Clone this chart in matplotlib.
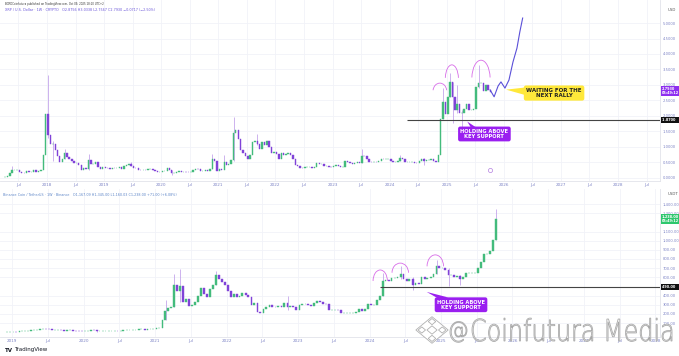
import numpy as np
import pandas as pd
import matplotlib.pyplot as plt
import matplotlib.transforms as mtransforms
from matplotlib.patches import Arc, Polygon, RegularPolygon, PathPatch
from matplotlib.textpath import TextPath
from matplotlib.font_manager import FontProperties

# XRP / USD, half-month closes from 2017-04-01
xrp_close = [
    0.034, 0.06, 0.17, 0.25, 0.25, 0.26, 0.19, 0.17, 0.16, 0.21, 0.19, 0.20,
    0.25, 0.20, 0.21, 0.25, 0.75, 2.05,
    1.40, 1.10, 1.10, 0.90, 0.70, 0.50, 0.62, 0.82, 0.67, 0.61, 0.55, 0.47,
    0.47, 0.43, 0.27, 0.33, 0.28, 0.58, 0.44, 0.46, 0.50, 0.36, 0.29, 0.35,
    0.32, 0.31, 0.30, 0.32, 0.31, 0.31, 0.34, 0.30, 0.40, 0.42, 0.44, 0.40,
    0.32, 0.31, 0.27, 0.26, 0.26, 0.25, 0.29, 0.29, 0.26, 0.23, 0.19, 0.19,
    0.22, 0.24, 0.33, 0.25, 0.16, 0.17, 0.19, 0.21, 0.20, 0.20, 0.19, 0.18,
    0.20, 0.26, 0.29, 0.28, 0.24, 0.24, 0.25, 0.24, 0.30, 0.60, 0.55, 0.22,
    0.30, 0.26, 0.53, 0.42, 0.44, 0.57, 1.45, 1.56, 1.25, 0.90, 0.82, 0.70,
    0.60, 0.75, 1.15, 1.18, 1.10, 0.95, 1.15, 1.08, 1.20, 1.00, 0.82, 0.83,
    0.76, 0.62, 0.80, 0.75, 0.77, 0.82, 0.73, 0.62, 0.42, 0.40, 0.32, 0.31,
    0.35, 0.37, 0.37, 0.33, 0.36, 0.48, 0.46, 0.46, 0.38, 0.40, 0.35, 0.34,
    0.38, 0.41, 0.39, 0.37, 0.37, 0.54, 0.50, 0.47, 0.45, 0.47, 0.52, 0.47,
    0.72, 0.70, 0.62, 0.52, 0.50, 0.52, 0.51, 0.54, 0.62, 0.60, 0.62, 0.62,
    0.56, 0.50, 0.52, 0.55, 0.64, 0.62, 0.50, 0.51, 0.51, 0.52, 0.48, 0.47,
    0.54, 0.62, 0.56, 0.57, 0.58, 0.62, 0.54, 0.52, 0.75, 1.90, 2.45, 2.08,
    2.60, 3.10, 2.60, 2.20, 2.40, 2.10, 2.10, 2.22, 2.38, 2.18, 2.18, 2.22,
    2.95, 3.05, 3.05, 2.80, 3.00, 2.85, 2.79,
]
xrp_wick_date = ['2017-05-16', '2018-01-01', '2018-02-01', '2018-04-16', '2018-09-16',
                 '2019-06-16', '2020-03-01', '2020-11-16', '2021-02-01', '2021-04-01',
                 '2021-09-01', '2023-07-01', '2024-03-01', '2024-08-01', '2024-12-01',
                 '2025-01-16', '2025-02-01', '2025-03-01', '2025-04-01', '2025-07-16']
xrp_wick_high = [0.40, 3.31, 1.20, 0.95, 0.78, 0.50, 0.25, 0.78, 0.75, 1.96,
                 1.41, 0.94, 0.74, 0.64, 2.90, 3.40, 3.10, 2.99, 2.20, 3.66]
xrp_wick_low = [0.20, 1.30, 0.56, 0.60, 0.27, 0.40, 0.11, 0.29, 0.30, 0.55,
                1.05, 0.47, 0.55, 0.43, 1.90, 2.60, 1.77, 2.10, 1.61, 2.90]
xrp_proj_year = [2025.76, 2025.83, 2025.90, 2025.95, 2026.02, 2026.09, 2026.16, 2026.23, 2026.28, 2026.33]
xrp_proj_price = [2.84, 2.62, 2.97, 3.10, 2.90, 3.16, 3.74, 4.19, 4.71, 5.16]
xrp_support = 1.87
xrp_ticks = [0.0, 0.5, 1.0, 1.5, 2.0, 2.5, 3.0, 3.5, 4.0, 4.5, 5.0]

# BNB / USDT, half-month closes from 2018-12-01
bnb_close = [
    5.0, 5.9,
    6.3, 6.0, 9.5, 10.5, 14.5, 16.5, 19, 21, 25, 33, 35, 33,
    30, 27, 28, 28, 21, 16, 19, 20, 18, 16, 14, 13.7,
    16, 17, 23, 20, 12, 12, 15, 17, 17, 17, 17, 15.5,
    18, 21, 22, 23, 28, 28, 30, 31, 27, 32, 33, 37,
    42, 45, 130, 230, 260, 280, 520, 450, 500, 330, 360, 290,
    300, 330, 400, 480, 420, 380, 470, 520, 620, 580, 550, 520,
    450, 380, 420, 380, 400, 430, 410, 380, 300, 320, 220, 215,
    250, 280, 300, 280, 275, 285, 275, 320, 280, 290, 270, 245,
    300, 310, 310, 300, 290, 315, 340, 325, 310, 305, 240, 240,
    245, 240, 215, 215, 215, 215, 215, 225, 250, 230, 250, 310,
    300, 300, 350, 400, 560, 570, 560, 590, 590, 600, 640, 580,
    560, 580, 520, 540, 530, 600, 580, 590, 600, 640, 720, 700,
    700, 680, 620, 620, 600, 610, 580, 600, 650, 650, 650, 650,
    700, 770, 850, 860, 890, 1010, 1240,
]
bnb_wick_date = ['2020-03-01', '2021-02-16', '2021-04-01', '2021-05-01', '2021-11-01',
                 '2022-11-01', '2024-03-01', '2024-06-01', '2024-08-01', '2024-12-01',
                 '2025-02-01', '2025-04-01', '2025-10-01']
bnb_wick_high = [23, 348, 638, 690, 670, 400, 645, 720, 600, 793, 700, 620, 1345]
bnb_wick_low = [6.4, 130, 280, 330, 520, 240, 400, 580, 460, 640, 500, 520, 1010]
bnb_support = 490
# 500 and 1,200 sit under the price boxes, so they are not shown
bnb_ticks = [100, 200, 300, 400, 600, 700, 800, 900, 1000, 1100, 1300, 1400]

UP = '#43bb7c'
DOWN = '#8043d8'
WICK = '#b994e8'
LBL = '#7d84c6'
GRID = '#f1f2f8'
W, H = 679, 356


def px(l, t, r, b):
    return [l / W, 1 - b / H, (r - l) / W, (b - t) / H]


def dec_year(d):
    d = pd.DatetimeIndex(d)
    return np.asarray(d.year + (d.dayofyear - 1) / 365.25)


def candles(ax, start, close, wdates, whigh, wlow):
    dates = pd.date_range(start, periods=len(close), freq='SMS')
    x = dec_year(dates) + 1 / 48
    c = np.array(close, float)
    o = np.r_[c[0], c[:-1]]
    col = [UP if cc >= oo else DOWN for oo, cc in zip(o, c)]
    wx = dec_year(pd.to_datetime(wdates)) + 1 / 48
    ax.vlines(wx, wlow, whigh, color=WICK, lw=0.5, zorder=2)
    ax.bar(x, c - o, bottom=o, width=0.6 / 24, color=col, edgecolor=col, lw=0.3, zorder=3)


def style(ax, xl, yl, yticks, yfmt, first_year):
    ax.set_xlim(*xl)
    ax.set_ylim(*yl)
    xt, xlab = [], []
    for y in range(first_year, 2029):
        for m, lab in ((0, str(y)), (0.5, 'Jul')):
            if xl[0] < y + m < xl[1] - 0.05:
                xt.append(y + m)
                xlab.append(lab)
    ax.set_xticks(xt)
    ax.set_xticklabels(xlab)
    ax.set_yticks(yticks)
    ax.set_yticklabels([yfmt(v) for v in yticks])
    ax.yaxis.tick_right()
    ax.tick_params(length=0, labelsize=3.0, colors=LBL)
    ax.tick_params(axis='x', pad=1.5)
    ax.tick_params(axis='y', pad=1.8, labelsize=2.7)
    ax.grid(True, color=GRID, lw=0.6)
    ax.set_axisbelow(True)
    for s in ('top', 'left'):
        ax.spines[s].set_visible(False)
    for s in ('right', 'bottom'):
        ax.spines[s].set_color('#e2e3ea')
        ax.spines[s].set_linewidth(0.6)


def axis_box(ax, y, s, fc):
    tr = mtransforms.blended_transform_factory(ax.transAxes, ax.transData)
    ax.text(1.003, y, s, transform=tr, ha='left', va='center', fontsize=2.5, color='white',
            fontweight='bold', linespacing=1.0, clip_on=False, zorder=10,
            bbox=dict(boxstyle='square,pad=0.3', fc=fc, ec='none'))


def callout(ax, xy, s, fc, tc, tail, fs):
    ax.add_patch(Polygon(tail, closed=True, fc=fc, ec='none', zorder=8))
    ax.text(xy[0], xy[1], s, ha='center', va='center', fontsize=fs, fontweight='bold',
            color=tc, linespacing=1.05, zorder=9,
            bbox=dict(boxstyle='round,pad=0.45,rounding_size=0.4', fc=fc, ec='none'))


fig = plt.figure(figsize=(W / 100, H / 100), dpi=100)
fig.patch.set_facecolor('white')

# ---- top pane: XRP ----
ax1 = fig.add_axes(px(0, 0, 660, 181))
candles(ax1, '2017-04-01', xrp_close, xrp_wick_date, xrp_wick_high, xrp_wick_low)
style(ax1, (2017.177, 2028.735), (-0.097, 5.742), xrp_ticks,
      lambda v: f'{v:.4f}', 2017)
ax1.plot(xrp_proj_year, xrp_proj_price, color='#5a4fd8', lw=0.8, zorder=4)
ax1.hlines(xrp_support, 2024.30, 2028.735, color='#444444', lw=0.8, zorder=5)
for cx, cy, w, h in ((2024.88, 2.80, 0.24, 0.52), (2025.09, 3.20, 0.23, 0.90),
                     (2025.60, 3.20, 0.32, 1.20)):
    ax1.add_patch(Arc((cx, cy), w, h, theta1=15, theta2=165, color='#d76be8', lw=0.6, zorder=6))
ax1.plot([2025.76], [0.26], 'o', ms=3, mfc='white', mec='#b37fe0', mew=0.5, zorder=6)
callout(ax1, (2026.88, 2.74), 'WAITING FOR THE\nNEXT RALLY', '#ffe83a', '#222222',
        [(2026.04, 2.85), (2026.52, 2.95), (2026.52, 2.60)], 4.0)
callout(ax1, (2025.66, 1.42), 'HOLDING ABOVE\nKEY SUPPORT', '#9a1ff0', 'white',
        [(2025.36, 1.82), (2025.45, 1.55), (2025.58, 1.55)], 3.7)
axis_box(ax1, 2.793, '2.7930\n05:49:12', '#8e2ff0')
axis_box(ax1, xrp_support, '1.8700  ', '#111111')
ax1.text(1.012, 0.94, 'USD', transform=ax1.transAxes, fontsize=2.8, color='#555', clip_on=False)

# ---- bottom pane: BNB ----
ax2 = fig.add_axes(px(0, 189, 660, 337))
candles(ax2, '2018-12-01', bnb_close, bnb_wick_date, bnb_wick_high, bnb_wick_low)
style(ax2, (2018.832, 2028.063), (-52.5, 1565), bnb_ticks,
      lambda v: f'{v:,.2f}', 2019)
ax2.hlines(bnb_support, 2024.15, 2028.063, color='#444444', lw=0.8, zorder=5)
for cx, cy, w, h in ((2024.15, 560, 0.20, 240), (2024.43, 650, 0.23, 210),
                     (2024.92, 720, 0.23, 250)):
    ax2.add_patch(Arc((cx, cy), w, h, theta1=15, theta2=165, color='#d76be8', lw=0.6, zorder=6))
callout(ax2, (2025.28, 300), 'HOLDING ABOVE\nKEY SUPPORT', '#9a1ff0', 'white',
        [(2024.80, 440), (2024.98, 360), (2025.10, 380)], 3.7)
axis_box(ax2, 1238, '1,238.00\n05:49:12', '#2fc76e')
axis_box(ax2, bnb_support, '490.00  ', '#111111')
ax2.text(1.012, 0.96, 'USDT', transform=ax2.transAxes, fontsize=2.8, color='#555', clip_on=False)

# ---- headers ----
fig.text(5 / W, 1 - 3.5 / H, 'BCRDCoinfutura published on TradingView.com, Oct 09, 2025 18:10 UTC+2',
         fontsize=1.9, color='#333333', va='center')
fig.text(5 / W, 1 - 10 / H,
         'XRP / U.S. Dollar · 1W · CRYPTO   O2.8756 H3.0338 L2.7567 C2.7930 \u22120.0717 (\u22122.50%)',
         fontsize=2.4, color='#6a55d8', va='center')
fig.text(3 / W, 1 - 195 / H,
         'Binance Coin / TetherUS · 1W · Binance   O1,167.09 H1,345.00 L1,160.03 C1,238.00 +71.00 (+6.08%)',
         fontsize=2.4, color='#5e86c8', va='center')

# ---- TradingView logo ----
fig.text(5 / W, 1 - 350 / H, 'TV', fontsize=4, fontweight='bold', color='#131722', va='center')
fig.text(14 / W, 1 - 350 / H, 'TradingView', fontsize=4, color='#131722', va='center')

# ---- watermark (pixel-space overlay) ----
ov = fig.add_axes([0, 0, 1, 1], zorder=20)
ov.set_xlim(0, W)
ov.set_ylim(H, 0)
ov.axis('off')
ov.patch.set_alpha(0)
fp = FontProperties(family='DejaVu Sans', weight='light')


def outline_text(s, x0, base, width, cap):
    tp = TextPath((0, 0), s, size=1, prop=fp)
    ext = tp.get_extents()
    sx = width / ext.width
    sy = cap / 0.73
    tr = mtransforms.Affine2D().translate(-ext.x0, 0).scale(sx, -sy).translate(x0, base)
    ov.add_patch(PathPatch(tr.transform_path(tp), fc='white', ec='#a8a8a8', lw=0.6))


outline_text('@', 450, 338, 17, 17)
outline_text('Coinfutura Media', 472, 341, 200, 22)

# binance-style logo: outer diamond first, then the inner pieces on top
lg = fig.add_axes(px(415, 316, 449, 344), zorder=21)
lg.set_xlim(-1, 1)
lg.set_ylim(-1, 1)
lg.axis('off')
lg.patch.set_alpha(0)
for (cx, cy, r) in ((0, 0, 0.95), (0, 0, 0.3), (0, 0.6, 0.22), (0, -0.6, 0.22),
                    (0.6, 0, 0.22), (-0.6, 0, 0.22)):
    lg.add_patch(RegularPolygon((cx, cy), 4, radius=r, orientation=0, fc='white',
                                ec='#b0b0b0', lw=0.6))

fig.savefig('out.png', dpi=100, facecolor='white')
